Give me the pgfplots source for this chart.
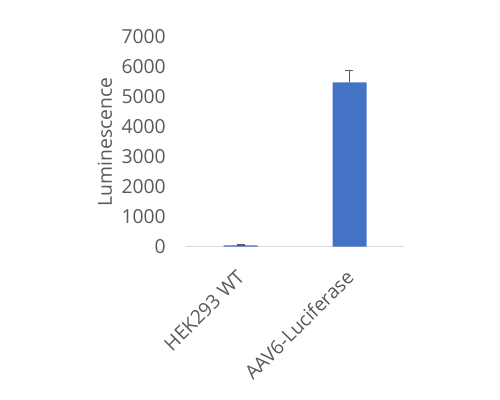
\documentclass[border=0pt]{standalone}
\usepackage{pgfplots}
\pgfplotsset{compat=1.18}
\usepackage{fontspec}
\setmainfont{Open Sans}
\definecolor{barblue}{HTML}{4472C4}
\definecolor{txtgray}{HTML}{595959}
\definecolor{axgray}{HTML}{D9D9D9}
\begin{document}
\begin{tikzpicture}
\useasboundingbox (0pt,0pt) rectangle (375pt,300pt);
\begin{axis}[
  at={(139.5pt,115pt)}, anchor=south west,
  scale only axis,
  width=163.5pt, height=157.3pt,
  xmin=-0.5, xmax=1.5,
  ymin=0, ymax=7000,
  axis x line*=bottom,
  axis y line*=left,
  x axis line style={draw=axgray, line width=1pt, -},
  y axis line style={draw=none},
  xtick={0,1},
  xticklabels={HEK293 WT, AAV6-Luciferase},
  xtick style={draw=none},
  ytick style={draw=none},
  xticklabel style={rotate=45, anchor=east, inner sep=0pt, font=\fontsize{14.5}{17}\selectfont, text=txtgray, xshift=-14pt, yshift=-14.6pt},
  ytick={0,1000,...,7000},
  yticklabel style={anchor=east, inner sep=0pt, xshift=-15pt, font=\fontsize{14.5}{17}\selectfont, text=txtgray},
  /pgf/number format/assume math mode=true,
  /pgf/number format/1000 sep={},
  ylabel={Luminescence},
  ylabel style={at={(axis description cs:0,0.5)}, anchor=center, yshift=60.75pt, font=\fontsize{14.5}{17}\selectfont, text=txtgray},
  bar width=25.5pt,
  clip=false,
]
\addplot[ybar, fill=barblue, draw=none,
  error bars/.cd, y dir=plus, y explicit,
  error bar style={draw=txtgray, line width=1.2pt},
  error mark options={draw=txtgray, line width=1.2pt, mark size=3pt, rotate=90}]
  coordinates {(0,40) +- (0,10) (1,5485) +- (0,390)};
\end{axis}
\end{tikzpicture}
\end{document}
